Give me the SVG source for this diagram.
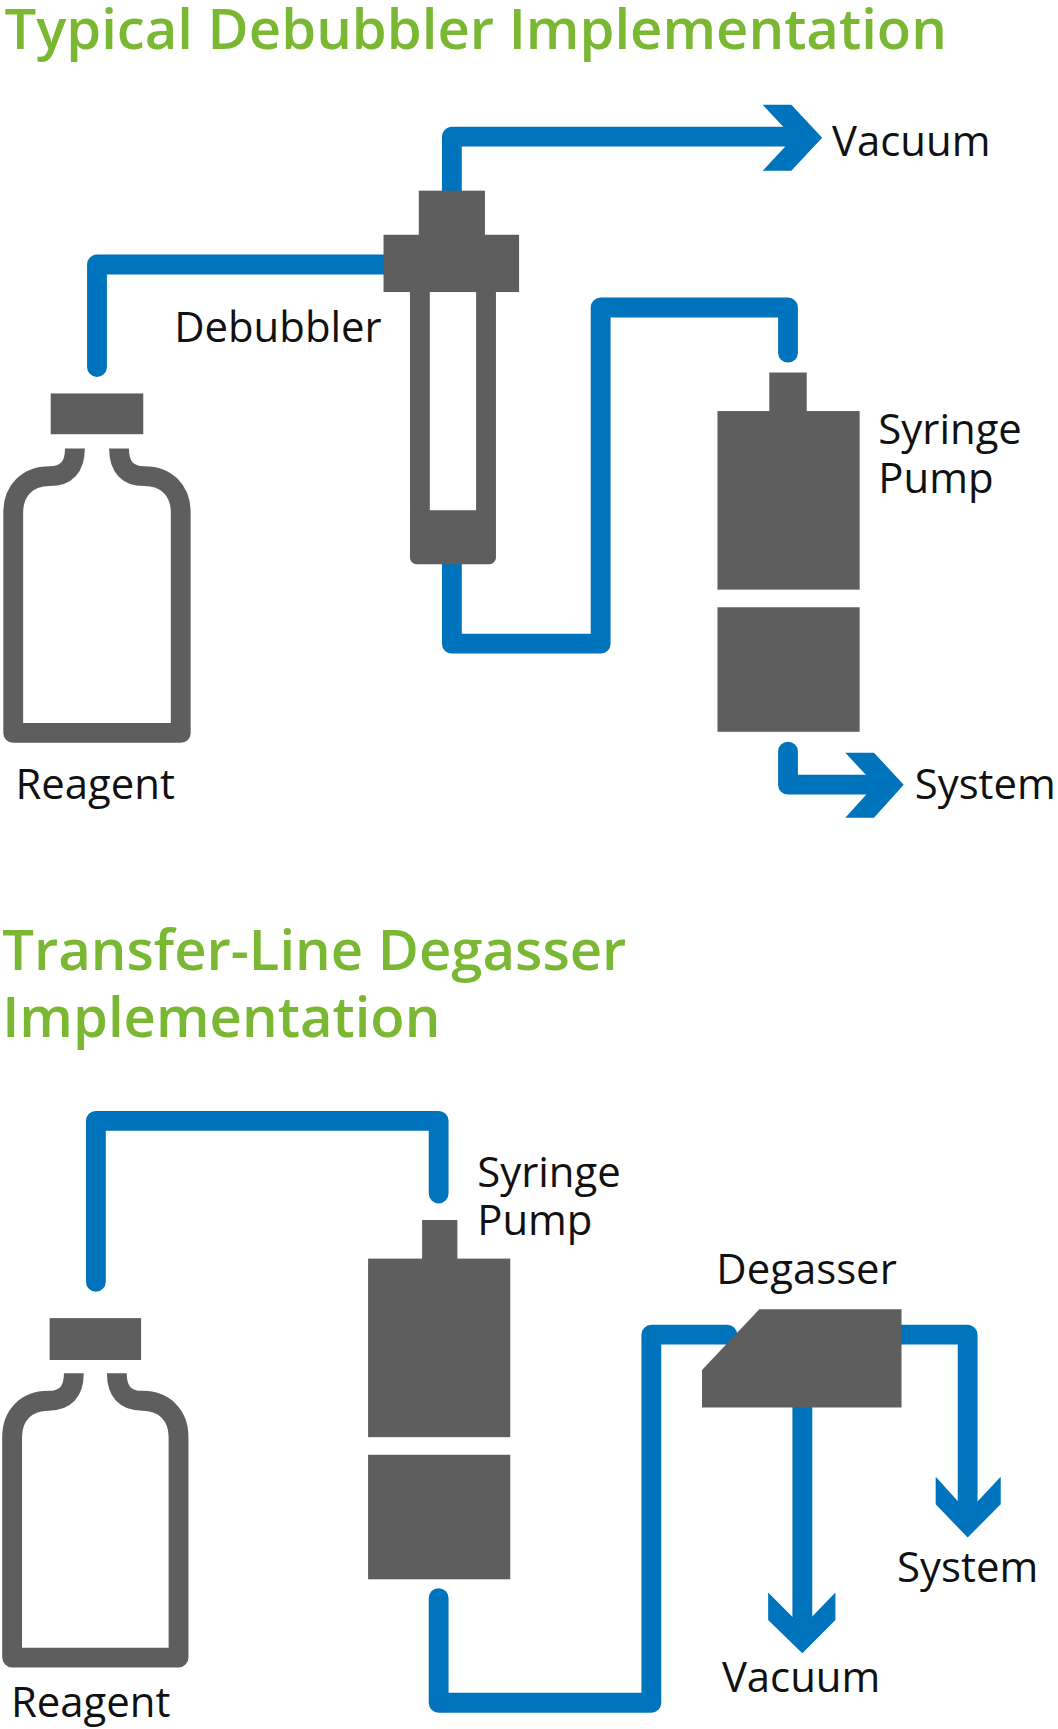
<svg xmlns="http://www.w3.org/2000/svg" width="1058" height="1729" viewBox="0 0 1058 1729">
<style>
.t{font-family:"Open Sans","Liberation Sans",sans-serif;font-weight:600;font-size:51px;fill:#7ab833}
.l{font-family:"Open Sans","Liberation Sans",sans-serif;font-size:38px;fill:#111}
.g{fill:#5e5e5e}
.p{fill:none;stroke:#0073bd;stroke-width:18;stroke-linejoin:round;stroke-linecap:round}
.a{fill:#0073bd}
.b{fill:none;stroke:#5e5e5e;stroke-width:18;stroke-linejoin:round}
</style>
<rect width="1058" height="1729" fill="#fff"/>
<g transform="scale(1.1021)">
<text class="t" x="4" y="44">Typical Debubbler Implementation</text>
<text class="t" x="2" y="880">Transfer-Line Degasser</text>
<text class="t" x="2" y="941">Implementation</text>
<g id="connectors">
<path class="p" d="M410,175 V124 H730"/>
<polygon class="a" points="692,95 718,95 746,125 718,155 692,155 720,125"/>
<path class="p" d="M350,240 H88 V333"/>
<path class="p" d="M410,510 V584 H545 V279 H715 V320"/>
<path class="p" d="M715,682 V712 H790"/>
<polygon class="a" points="767,683 793,683 820,712 793,742 767,742 794,712"/>
<path class="p" d="M87,1163 V1017 H398 V1083"/>
<path class="p" d="M398,1450 V1545 H591 V1211 H660"/>
<path class="p" d="M815,1211 H878 V1375"/>
<polygon class="a" points="849,1340 849,1365 878,1395 908,1365 908,1340 878,1372"/>
<path class="p" d="M728,1275 V1480" stroke-linecap="butt"/>
<polygon class="a" points="697,1445 697,1470 728,1500 758,1470 758,1445 728,1476"/>
</g>
<g id="debubbler">
<rect class="g" x="380" y="173" width="60" height="42"/>
<rect class="g" x="348" y="213" width="123" height="52"/>
<path class="g" d="M372,265 H450 V506 a6,6 0 0 1 -6,6 H378 a6,6 0 0 1 -6,-6 Z M390,265 V463 H432 V265 Z" fill-rule="evenodd"/>
<text class="l" x="158" y="310">Debubbler</text>
</g>
<g id="syringe1">
<rect class="g" x="698" y="338" width="34" height="36"/>
<rect class="g" x="651" y="373" width="129" height="162"/>
<rect class="g" x="651" y="551" width="129" height="113"/>
<text class="l" x="797" y="403">Syringe</text>
<text class="l" x="797" y="447">Pump</text>
</g>
<g id="reagent1">
<rect class="g" x="46" y="357" width="84" height="37"/>
<path class="b" d="M68,407 C68,424 60,432 45,432 C25,432 12,445 12,465 V665 H164 V465 C164,445 151,432 131,432 C116,432 108,424 108,407"/>
<text class="l" x="14" y="725">Reagent</text>
</g>
<g id="vacuum1"><text class="l" x="755" y="142">Vacuum</text></g>
<g id="system1"><text class="l" x="830" y="725">System</text></g>
<g id="reagent2">
<rect class="g" x="45" y="1196" width="83" height="38"/>
<path class="b" d="M67,1246 C67,1263 59,1271 44,1271 C24,1271 11,1284 11,1304 V1504 H162 V1304 C162,1284 149,1271 129,1271 C114,1271 106,1263 106,1246"/>
<text class="l" x="10" y="1558">Reagent</text>
</g>
<g id="syringe2">
<rect class="g" x="383" y="1107" width="32" height="36"/>
<rect class="g" x="334" y="1142" width="129" height="162"/>
<rect class="g" x="334" y="1320" width="129" height="113"/>
<text class="l" x="433" y="1077">Syringe</text>
<text class="l" x="433" y="1121">Pump</text>
</g>
<g id="degasser">
<polygon class="g" points="689,1188 818,1188 818,1277 637,1277 637,1243"/>
<text class="l" x="650" y="1165">Degasser</text>
</g>
<g id="system2"><text class="l" x="814" y="1435">System</text></g>
<g id="vacuum2"><text class="l" x="655" y="1535">Vacuum</text></g>
</g>
</svg>
